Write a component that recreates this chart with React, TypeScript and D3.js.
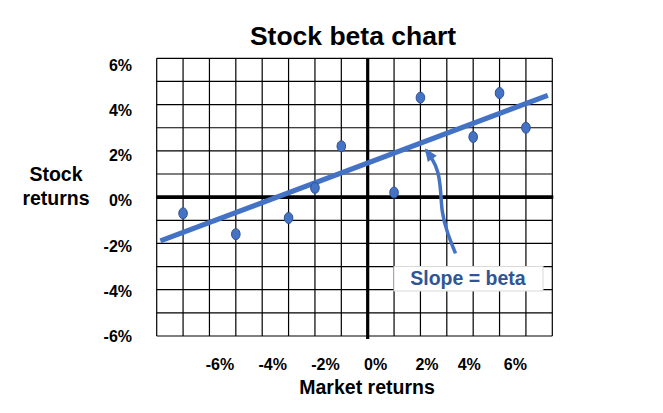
import * as d3 from "d3"

// scatter data (market return %, stock return %)
const marketReturns = [-7, -5, -3, -2, -1, 1, 2, 4, 5, 6]
const stockReturns = [-0.7, -1.6, -0.9, 0.4, 2.2, 0.2, 4.3, 2.6, 4.5, 3.0]

// fitted line ends
const fitX = [-7.86, 6.83]
const fitY = [-1.89, 4.4]

const yTickValues = [6, 4, 2, 0, -2, -4, -6]
const xTickLabels = ["-6%", "-4%", "-2%", "0%", "2%", "4%", "6%"]
// where the x labels sit, in market-return units (they are not on the grid)
const xTickLabelAt = [-5.6, -3.6, -1.6, 0.3, 2.25, 3.85, 5.6]

// annotation arrow path in data units
const arrowPts: [number, number][] = [
    [3.33, -2.43], [3.0, -1.5], [2.8, -0.6], [2.78, 0.2], [2.68, 1.15], [2.45, 1.65], [2.21, 2.04],
]

const font = "Arial, 'Liberation Sans', sans-serif"
const blue = "#4472C4"

export default function App() {
    const x = d3.scaleLinear().domain([-8, 7]).range([156.7, 552.3])
    const y = d3.scaleLinear().domain([-6, 6]).range([336, 58.3])
    const yLabel = d3.scaleLinear().domain([-6, 6]).range([336.5, 65])

    const gridX = d3.range(-8, 8)
    const gridY = d3.range(-6, 7)

    const arrowPath = d3.line<[number, number]>()
        .x(d => x(d[0])).y(d => y(d[1]))
        .curve(d3.curveBasis)(arrowPts) as string

    const tip = arrowPts[arrowPts.length - 1]
    const prev = arrowPts[arrowPts.length - 2]
    const tx = x(tip[0]), ty = y(tip[1])
    const ang = Math.atan2(ty - y(prev[1]), tx - x(prev[0]))
    const headLen = 11, headW = 5.5
    const bx = tx - headLen * Math.cos(ang), by = ty - headLen * Math.sin(ang)
    const head = [
        [tx + 2 * Math.cos(ang), ty + 2 * Math.sin(ang)],
        [bx + headW * Math.sin(ang), by - headW * Math.cos(ang)],
        [bx - headW * Math.sin(ang), by + headW * Math.cos(ang)],
    ].map(p => p.join(",")).join(" ")

    return (
        <svg width={663} height={413} style={{ position: "absolute", left: 0, top: 0, background: "white" }}>
            <text x={353} y={45} textAnchor="middle" fontFamily={font} fontWeight="bold" fontSize={26.5}>Stock beta chart</text>

            {gridX.map(v => (
                <line key={"gx" + v} x1={x(v)} x2={x(v)} y1={y(6)} y2={y(-6)} stroke="black" strokeWidth={1.2} />
            ))}
            {gridY.map(v => (
                <line key={"gy" + v} x1={x(-8)} x2={x(7)} y1={y(v)} y2={y(v)} stroke="black" strokeWidth={1.2} />
            ))}
            <line x1={x(0)} x2={x(0)} y1={y(6)} y2={y(-6) + 3} stroke="black" strokeWidth={3.2} />
            <line x1={x(-8)} x2={x(7) + 1} y1={y(0)} y2={y(0)} stroke="black" strokeWidth={3.8} />

            {yTickValues.map(v => (
                <text key={"yl" + v} x={132} y={yLabel(v)} dy="0.35em" textAnchor="end"
                    fontFamily={font} fontWeight="bold" fontSize={16}>{v + "%"}</text>
            ))}
            {xTickLabels.map((t, i) => (
                <text key={"xl" + i} x={x(xTickLabelAt[i])} y={369.5} textAnchor="middle"
                    fontFamily={font} fontWeight="bold" fontSize={16}>{t}</text>
            ))}

            <text x={56} y={181} textAnchor="middle" fontFamily={font} fontWeight="bold" fontSize={19.5}>Stock</text>
            <text x={56} y={205} textAnchor="middle" fontFamily={font} fontWeight="bold" fontSize={19.5}>returns</text>
            <text x={367} y={394} textAnchor="middle" fontFamily={font} fontWeight="bold" fontSize={19.5}>Market returns</text>

            <line x1={x(fitX[0])} y1={y(fitY[0])} x2={x(fitX[1])} y2={y(fitY[1])} stroke={blue} strokeWidth={5} />

            {marketReturns.map((m, i) => (
                <ellipse key={"p" + i} cx={x(m)} cy={y(stockReturns[i])} rx={4.3} ry={5.5}
                    fill={blue} stroke="#2F528F" strokeWidth={1} />
            ))}

            <path d={arrowPath} fill="none" stroke={blue} strokeWidth={3.5} />
            <polygon points={head} fill={blue} />

            <rect x={394} y={266.5} width={149} height={24.5} fill="white" stroke="#d9d9d9" strokeWidth={1} />
            <text x={468} y={285} textAnchor="middle" fontFamily={font} fontWeight="bold" fontSize={19.5} fill="#2F5597">Slope = beta</text>
        </svg>
    )
}
